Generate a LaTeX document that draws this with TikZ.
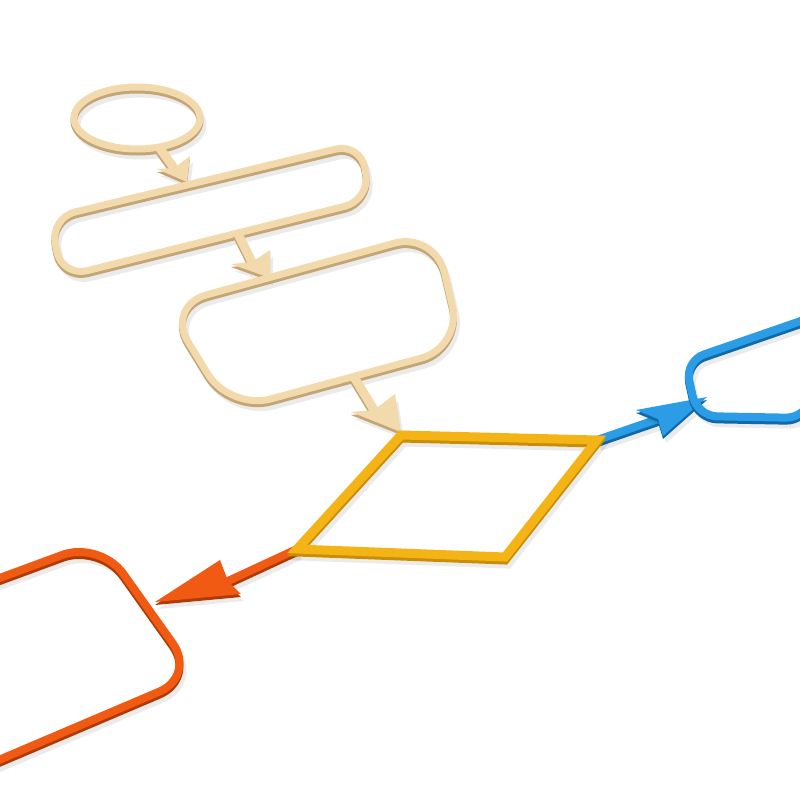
\documentclass[tikz,border=0pt]{standalone}
\definecolor{tantop}{HTML}{F3DAAC}
\definecolor{tanside}{HTML}{C4A575}
\definecolor{goldtop}{HTML}{F5B416}
\definecolor{goldside}{HTML}{C98E05}
\definecolor{bluetop}{HTML}{2A9DE6}
\definecolor{blueside}{HTML}{1268A8}
\definecolor{orangetop}{HTML}{F15A12}
\definecolor{orangeside}{HTML}{B03A05}
\newcommand\extrude[3]{%
  \begin{scope}[transform canvas={shift={(3,7)}}]
    \path[#1, color=black, draw opacity=.08, fill opacity=.08] #3;
  \end{scope}
  \begin{scope}[transform canvas={shift={(0,3)}}]
    \path[#1, color=#2side] #3;
  \end{scope}
  \path[#1, color=#2top] #3;
}
\tikzset{
  shaft/.style={draw, line width=#1, line cap=butt},
  ring/.style={draw, line width=#1, line join=round},
  headfill/.style={fill, line join=miter},
}
\begin{document}
\begin{tikzpicture}[x=1pt, y=-1pt]
\useasboundingbox (0,0) rectangle (800,800);
\fill[white] (0,0) rectangle (800,800);
\clip (0,0) rectangle (800,800);
% ---------- coordinates ----------
\coordinate (E) at (137,118);
% arrow 1
\coordinate (a1s) at (158,146);
\coordinate (a1n) at (174,168);
\coordinate (a1l) at (157,169);
\coordinate (a1r) at (190,156);
\coordinate (a1t) at (187,182);
% rect 1
\coordinate (r1a) at (50,218);
\coordinate (r1b) at (361,143);
\coordinate (r1c) at (370,200);
\coordinate (r1d) at (62,277);
% arrow 2
\coordinate (a2s) at (237,232);
\coordinate (a2n) at (252,262);
\coordinate (a2l) at (231,264);
\coordinate (a2r) at (270,250);
\coordinate (a2t) at (270,278);
% rect 2
\coordinate (r2a) at (166,306);
\coordinate (r2b) at (435,232);
\coordinate (r2c) at (462,347);
\coordinate (r2d) at (230,410);
% arrow 3
\coordinate (a3s) at (354,377);
\coordinate (a3n) at (374,410);
\coordinate (a3l) at (351,412);
\coordinate (a3r) at (395,394);
\coordinate (a3t) at (401,432);
% diamond
\coordinate (d1) at (401,435);
\coordinate (d2) at (597,440);
\coordinate (d3) at (505,557);
\coordinate (d4) at (297,549);
% blue arrow
\coordinate (bn) at (658,419);
\coordinate (bl) at (636,410);
\coordinate (br) at (663,436);
\coordinate (bt) at (707,397);
% blue shape
\coordinate (b1) at (850,304);
\coordinate (b2) at (685,361);
\coordinate (b3) at (697,416);
\coordinate (b4) at (806,418);
\coordinate (b5) at (822,360);
% orange arrow
\coordinate (on) at (228,581);
\coordinate (ou) at (220,560);
\coordinate (ol) at (241,594);
\coordinate (ot) at (155,602);
% orange shape
\coordinate (o1) at (-60,600);
\coordinate (o2) at (100,541);
\coordinate (o3) at (196,676);
\coordinate (o4) at (-60,785);
% ---------- drawing ----------
% start ellipse
\extrude{ring=7pt}{tan}{(E) ellipse [x radius=63pt, y radius=31pt]}
% arrow 1
\extrude{shaft=9pt}{tan}{(a1s) -- (a1n)}
\extrude{headfill}{tan}{(a1l) -- (a1t) -- (a1r) -- (a1n) -- cycle}
% rect 1
\extrude{ring=7pt, rounded corners=26pt}{tan}{(r1a) -- (r1b) -- (r1c) -- (r1d) -- cycle}
% arrow 2
\extrude{shaft=9pt}{tan}{(a2s) -- (a2n)}
\extrude{headfill}{tan}{(a2l) -- (a2t) -- (a2r) -- (a2n) -- cycle}
% rect 2
\extrude{ring=7pt, rounded corners=42pt}{tan}{(r2a) -- (r2b) -- (r2c) -- (r2d) -- cycle}
% arrow 3
\extrude{shaft=9pt}{tan}{(a3s) -- (a3n)}
\extrude{headfill}{tan}{(a3l) -- (a3t) -- (a3r) -- (a3n) -- cycle}
% blue arrow
\extrude{shaft=8pt}{blue}{(d2) -- (bn)}
\extrude{headfill}{blue}{(bl) -- (bt) -- (br) -- (bn) -- cycle}
% blue shape
\extrude{ring=8pt, rounded corners=20pt}{blue}{(b1) -- (b2) -- (b3) -- (b4) -- (b5)}
% orange arrow
\extrude{shaft=8pt}{orange}{(d4) -- (on)}
\extrude{headfill}{orange}{(ou) -- (ot) -- (ol) -- (on) -- cycle}
% orange shape
\extrude{ring=8pt, rounded corners=40pt}{orange}{(o1) -- (o2) -- (o3) -- (o4)}
% diamond
\extrude{draw, line width=9pt, line join=miter}{gold}{(d1) -- (d2) -- (d3) -- (d4) -- cycle}
\end{tikzpicture}
\end{document}
